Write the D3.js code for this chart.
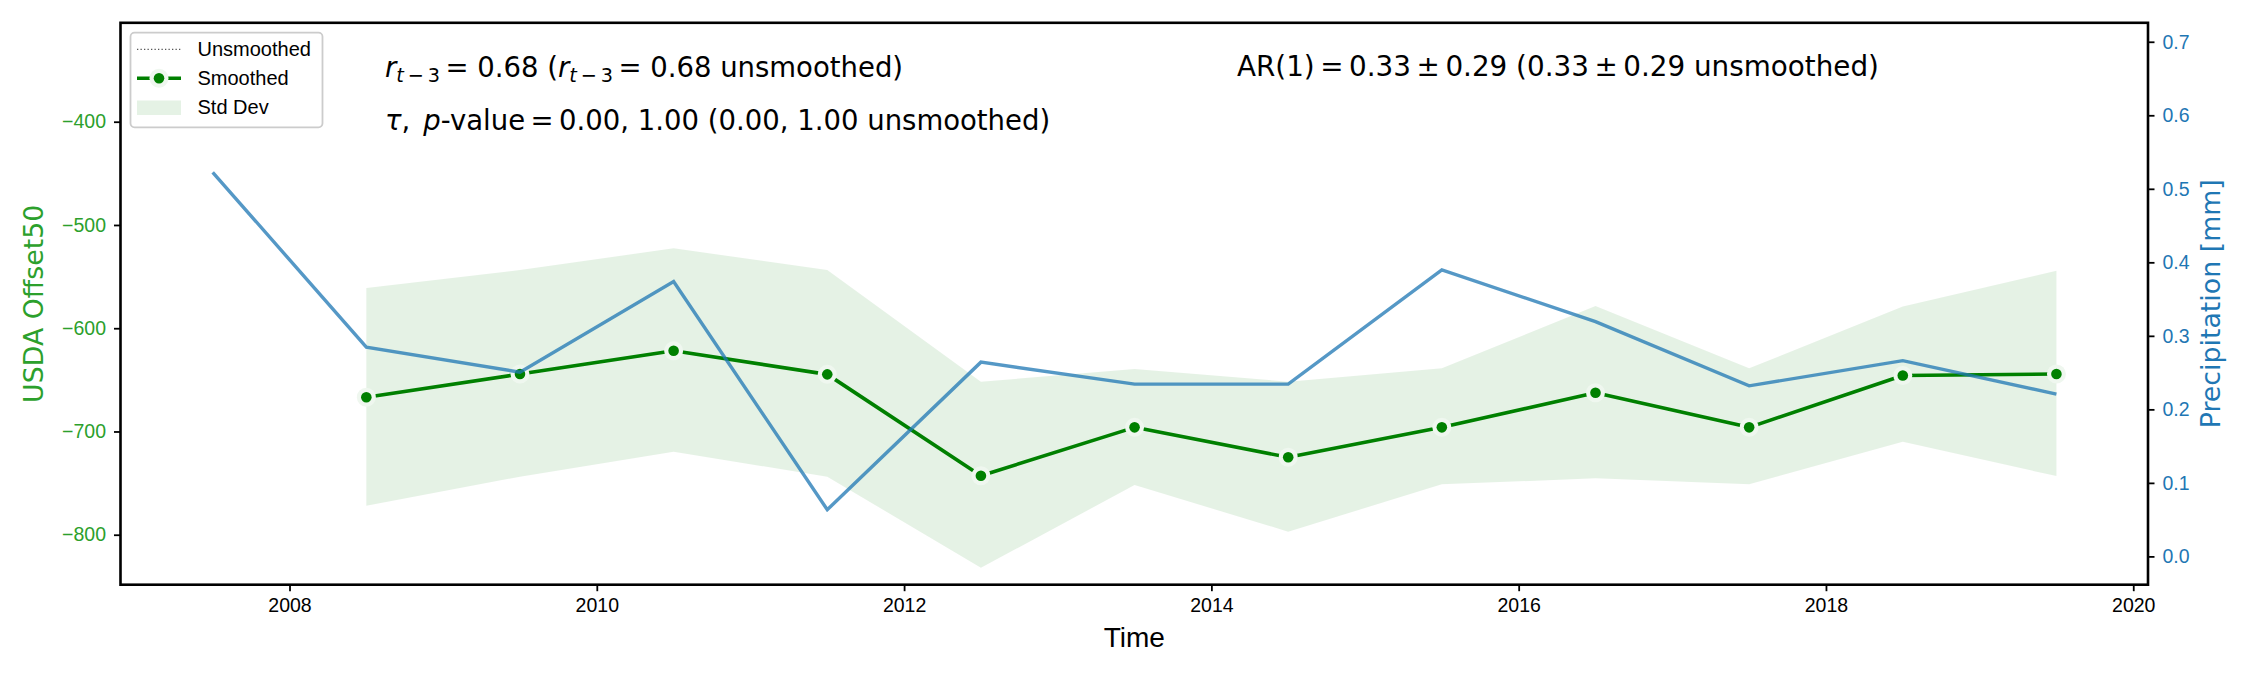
<!DOCTYPE html>
<html>
<head>
<meta charset="utf-8">
<script src="https://cdn.jsdelivr.net/npm/d3@7"></script>
<style>
  html, body { margin: 0; padding: 0; background: #fff; }
  svg { display: block; }
</style>
</head>
<body>
<svg id="chart" width="2250" height="675"></svg>
<script>
// ---------------- data ----------------
const precipYears = [2007.5, 2008.5, 2009.5, 2010.5, 2011.5, 2012.5, 2013.5, 2014.5, 2015.5, 2016.5, 2017.5, 2018.5, 2019.5];
const precipitation = [0.5225, 0.2846, 0.2506, 0.3738, 0.0635, 0.2642, 0.2343, 0.2343, 0.3897, 0.3194, 0.2320, 0.2662, 0.2207];

const smoothYears = [2008.5, 2009.5, 2010.5, 2011.5, 2012.5, 2013.5, 2014.5, 2015.5, 2016.5, 2017.5, 2018.5, 2019.5];
const smoothed = [-666.9, -644.4, -621.8, -644.7, -742.9, -696.0, -725.0, -696.0, -662.5, -696.0, -645.8, -644.3];
const stdUpper = [-561.0, -543.6, -522.6, -543.6, -651.8, -639.5, -651.8, -638.8, -578.5, -638.8, -579.0, -544.3];
const stdLower = [-771.9, -743.8, -719.6, -743.8, -832.0, -751.9, -797.0, -751.2, -745.4, -751.2, -710.0, -743.2];

const xTicks = [2008, 2010, 2012, 2014, 2016, 2018, 2020];
const leftTicks = [-800, -700, -600, -500, -400];
const rightTicks = [0.0, 0.1, 0.2, 0.3, 0.4, 0.5, 0.6, 0.7];
const legendLabels = ["Unsmoothed", "Smoothed", "Std Dev"];

// ---------------- layout ----------------
const X0 = 120.5, X1 = 2148, Y0 = 22.8, Y1 = 584.7;
const GREEN = "#2ca02c", BLUE = "#1f77b4", LINEGREEN = "#008000";
const SANS = "'Liberation Sans', Arial, sans-serif";
const DEJAVU = "'DejaVu Sans', sans-serif";

const svg = d3.select("#chart");

const x = d3.scaleLinear().domain([2006.9, 2020.096]).range([X0, X1]);
const yL = d3.scaleLinear().domain([-848.4, -304.2]).range([Y1, Y0]);
const yR = d3.scaleLinear().domain([-0.0385, 0.7258]).range([Y1, Y0]);

const plot = svg.append("g");
plot.append("clipPath").attr("id", "clip").append("rect")
  .attr("x", X0).attr("y", Y0).attr("width", X1 - X0).attr("height", Y1 - Y0);
const inner = plot.append("g").attr("clip-path", "url(#clip)");

// std dev band
const band = smoothYears.map((yr, i) => ({x: yr, lo: stdLower[i], hi: stdUpper[i]}));
inner.append("path").datum(band)
  .attr("d", d3.area().x(d => x(d.x)).y0(d => yL(d.lo)).y1(d => yL(d.hi)))
  .attr("fill", LINEGREEN).attr("fill-opacity", 0.1);

// smoothed line
const sm = smoothYears.map((yr, i) => ({x: yr, y: smoothed[i]}));
inner.append("path").datum(sm)
  .attr("d", d3.line().x(d => x(d.x)).y(d => yL(d.y)))
  .attr("fill", "none").attr("stroke", LINEGREEN).attr("stroke-width", 3.6)
  .attr("stroke-linejoin", "round");

const mk = inner.append("g").selectAll("g").data(sm).join("g")
  .attr("transform", d => `translate(${x(d.x)},${yL(d.y)})`);
mk.append("circle").attr("r", 9.5).attr("fill", "#eff7ef");
mk.append("circle").attr("r", 5.3).attr("fill", LINEGREEN);

// precipitation line (twin axis, drawn on top)
const pr = precipYears.map((yr, i) => ({x: yr, y: precipitation[i]}));
inner.append("path").datum(pr)
  .attr("d", d3.line().x(d => x(d.x)).y(d => yR(d.y)))
  .attr("fill", "none").attr("stroke", BLUE).attr("stroke-opacity", 0.76)
  .attr("stroke-width", 3.4).attr("stroke-linejoin", "miter");

// ---------------- axes ----------------
const xAxis = d3.axisBottom(x).tickValues(xTicks).tickFormat(d3.format("d"))
  .tickSize(6.5).tickPadding(7);
const gx = svg.append("g").attr("transform", `translate(0,${Y1})`).call(xAxis);
gx.select(".domain").remove();
gx.selectAll(".tick line").attr("stroke", "#000").attr("stroke-width", 1.8);
gx.selectAll(".tick text").attr("font-family", SANS).attr("font-size", 19.5).attr("fill", "#000");

const fmtL = d => (d < 0 ? "\u2212" : "") + Math.abs(d);
const yAxisL = d3.axisLeft(yL).tickValues(leftTicks).tickFormat(fmtL).tickSize(6.5).tickPadding(8);
const gl = svg.append("g").attr("transform", `translate(${X0},0)`).call(yAxisL);
gl.select(".domain").remove();
gl.selectAll(".tick line").attr("stroke", "#000").attr("stroke-width", 1.8);
gl.selectAll(".tick text").attr("font-family", SANS).attr("font-size", 19.5).attr("fill", GREEN);

const yAxisR = d3.axisRight(yR).tickValues(rightTicks).tickFormat(d3.format(".1f")).tickSize(6.5).tickPadding(8);
const gr = svg.append("g").attr("transform", `translate(${X1},0)`).call(yAxisR);
gr.select(".domain").remove();
gr.selectAll(".tick line").attr("stroke", "#000").attr("stroke-width", 1.8);
gr.selectAll(".tick text").attr("font-family", SANS).attr("font-size", 19.5).attr("fill", BLUE);

// spines
svg.append("rect").attr("x", X0).attr("y", Y0).attr("width", X1 - X0).attr("height", Y1 - Y0)
  .attr("fill", "none").attr("stroke", "#000").attr("stroke-width", 2.6);

// axis labels
svg.append("text").attr("x", (X0 + X1) / 2).attr("y", 646.5).attr("text-anchor", "middle")
  .attr("font-family", SANS).attr("font-size", 28).attr("fill", "#000").text("Time");
svg.append("text").attr("transform", `translate(42.5,${(Y0 + Y1) / 2}) rotate(-90)`)
  .attr("text-anchor", "middle").attr("font-family", DEJAVU).attr("font-size", 26.8)
  .attr("fill", GREEN).text("USDA Offset50");
svg.append("text").attr("transform", `translate(2220,${(Y0 + Y1) / 2}) rotate(-90)`)
  .attr("text-anchor", "middle").attr("font-family", DEJAVU).attr("font-size", 26.8)
  .attr("fill", BLUE).text("Precipitation [mm]");

// ---------------- annotations (math-style text) ----------------
const FS = 27.5;
function rSub(t) {
  t.append("tspan").attr("font-style", "italic").text("r");
  t.append("tspan").attr("font-size", FS * 0.7).attr("dy", FS * 0.2).attr("font-style", "italic").text("t");
  t.append("tspan").attr("font-size", FS * 0.7).text("\u2009\u2212\u20093");
  t.append("tspan").attr("dy", -FS * 0.2).text("\u2009");
}
const t1 = svg.append("text").attr("x", 385).attr("y", 76.5)
  .attr("font-family", DEJAVU).attr("font-size", FS).attr("fill", "#000").attr("xml:space", "preserve");
rSub(t1);
t1.append("tspan").text("= 0.68 (");
rSub(t1);
t1.append("tspan").text("= 0.68 unsmoothed)");

const t2 = svg.append("text").attr("x", 385).attr("y", 130)
  .attr("font-family", DEJAVU).attr("font-size", FS).attr("fill", "#000").attr("xml:space", "preserve");
t2.append("tspan").attr("font-style", "italic").text("\u03c4");
t2.append("tspan").text(",");
t2.append("tspan").attr("dx", 13).attr("font-style", "italic").text("p");
t2.append("tspan").text("-value\u2009=\u20090.00, 1.00 (0.00, 1.00 unsmoothed)");

svg.append("text").attr("x", 1237).attr("y", 75.5)
  .attr("font-family", DEJAVU).attr("font-size", 27.8).attr("fill", "#000")
  .text("AR(1)\u2009=\u20090.33\u2009\u00b1\u20090.29 (0.33\u2009\u00b1\u20090.29 unsmoothed)");

// ---------------- legend ----------------
const lg = svg.append("g");
lg.append("rect").attr("x", 130.5).attr("y", 32.7).attr("width", 192).attr("height", 94.6)
  .attr("rx", 4).attr("fill", "#fff").attr("fill-opacity", 0.8)
  .attr("stroke", "#cccccc").attr("stroke-width", 1.8);
const rowY = [49.3, 78.3, 107.3];
const hx0 = 137, hx1 = 181;
lg.append("line").attr("x1", hx0).attr("x2", hx1).attr("y1", rowY[0]).attr("y2", rowY[0])
  .attr("stroke", "#555").attr("stroke-width", 1.3).attr("stroke-dasharray", "1.3,2.2");
lg.append("line").attr("x1", hx0).attr("x2", hx1).attr("y1", rowY[1]).attr("y2", rowY[1])
  .attr("stroke", LINEGREEN).attr("stroke-width", 3.6);
lg.append("circle").attr("cx", (hx0 + hx1) / 2).attr("cy", rowY[1]).attr("r", 9.5).attr("fill", "#eff7ef");
lg.append("circle").attr("cx", (hx0 + hx1) / 2).attr("cy", rowY[1]).attr("r", 5.3).attr("fill", LINEGREEN);
lg.append("rect").attr("x", hx0).attr("y", 100.5).attr("width", hx1 - hx0).attr("height", 14.5)
  .attr("fill", LINEGREEN).attr("fill-opacity", 0.1);
lg.selectAll("text.lab").data(legendLabels).join("text").attr("class", "lab")
  .attr("x", 197.5).attr("y", (d, i) => rowY[i] + 7)
  .attr("font-family", SANS).attr("font-size", 20).attr("fill", "#000").text(d => d);
</script>
</body>
</html>
